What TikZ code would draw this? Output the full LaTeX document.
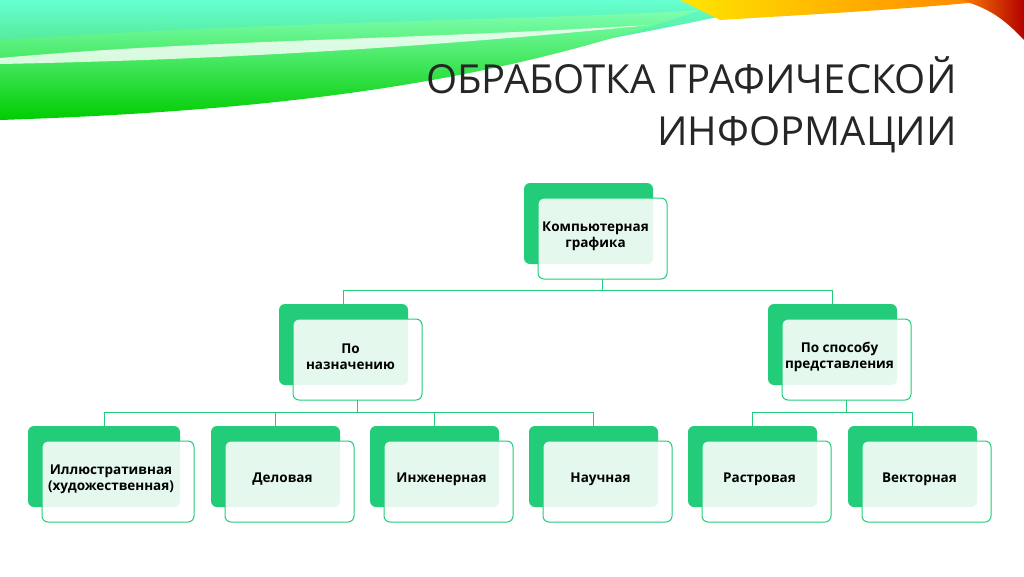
\documentclass[tikz,border=0pt]{standalone}
\usepackage{fontspec}
\setmainfont{Open Sans}
\usetikzlibrary{calc}
\definecolor{gr}{RGB}{34,204,120}
\begin{document}
\begin{tikzpicture}[x=1pt,y=-1pt,
  back/.style={fill=gr,rounded corners=6pt},
  front/.style={draw=gr,line width=1pt,fill=white,fill opacity=0.88,rounded corners=6pt},
  lbl/.style={font=\bfseries\fontsize{13.5}{16}\selectfont,align=center,text=black},
  conn/.style={draw=gr,line width=0.9pt}]
\useasboundingbox (0,0) rectangle (1024,576);
% decoration
\shade[left color=cyan!70!green!60, right color=green!70!black!80, shading angle=0]
  (0,0) -- (800,0) .. controls (650,30) and (500,70) .. (0,120) -- cycle;
\shade[top color=green!60!cyan!50, bottom color=green!80!black]
  (0,40) .. controls (300,20) and (550,20) .. (700,10) .. controls (500,80) and (300,110) .. (0,120) -- cycle;
\fill[white,opacity=0.8] (0,58) .. controls (200,40) and (400,40) .. (650,25) .. controls (400,50) and (200,60) .. (0,64) -- cycle;
\shade[left color=yellow!80!orange, right color=orange] (680,0) -- (1000,0) .. controls (900,10) and (800,15) .. (720,20) -- cycle;
\shade[left color=orange, right color=red!70!black] (960,0) -- (1024,0) -- (1024,40) .. controls (1005,20) and (990,8) .. (960,0) -- cycle;
% title
\node[anchor=east,align=right,font=\fontsize{40}{52}\selectfont,text=black!85] (title) at (960,105) {ОБРАБОТКА ГРАФИЧЕСКОЙ\\ИНФОРМАЦИИ};
\foreach \n/\x/\y/\w/\t in {k/524/183/129/{Компьютерная\\графика}, a/279/304/129/{По\\назначению}, b/768/304/129/{По способу\\представления},
  c1/28/426/152/{Иллюстративная\\(художественная)}, c2/211/426/129/{Деловая}, c3/370/426/129/{Инженерная}, c4/529/426/129/{Научная},
  c5/688/426/129/{Растровая}, c6/848/426/129/{Векторная}}{
  \fill[back] (\x,\y) rectangle ++(\w,81);
  \coordinate (\n-bt) at (\x+\w/2,\y);
  \draw[front] (\x+14,\y+15) rectangle ++(\w,81);
  \coordinate (\n-fb) at (\x+\w/2+14,\y+96);
  \node[lbl] (\n) at (\x+\w/2+7,\y+53) {\t};
}
% connectors
\draw[conn] (k-fb) -- ++(0,11) -| (a-bt);
\draw[conn] (k-fb) ++(0,11) -| (b-bt);
\foreach \c in {c1,c2,c3,c4}{\draw[conn] (a-fb) -- ++(0,12) -| (\c-bt);}
\foreach \c in {c5,c6}{\draw[conn] (b-fb) -- ++(0,12) -| (\c-bt);}
\end{tikzpicture}
\end{document}
